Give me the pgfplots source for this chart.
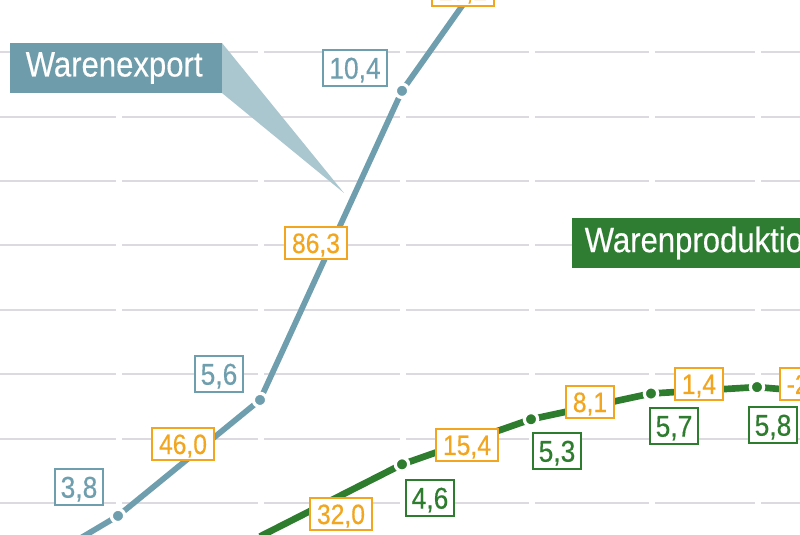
\documentclass[border=0pt]{standalone}
\usepackage{fontspec}
\setmainfont{Liberation Sans}[FakeStretch=0.88,FakeBold=0.4]
\usepackage{pgfplots}
\usepackage{pgfplotstable}
\pgfplotsset{compat=1.18}
\definecolor{expblue}{HTML}{6F9FAE}
\definecolor{expbox}{HTML}{6E9CAA}
\definecolor{exptri}{HTML}{AAC6CF}
\definecolor{prodgreen}{HTML}{2E7D2E}
\definecolor{prodbox}{HTML}{2E7D32}
\definecolor{growth}{HTML}{F2A51E}
\definecolor{gridc}{HTML}{DCDAE0}

\tikzset{
  lab/.style={draw,line width=1.5pt,fill=white,inner xsep=4.6pt,inner ysep=5.6pt,
     text height=16pt,text depth=0pt,font=\fontsize{22.5pt}{23pt}\selectfont},
  glab/.style={draw=growth,text=growth,line width=1.5pt,fill=white,inner xsep=5pt,inner ysep=4.2pt,
     text height=15pt,text depth=0pt,font=\fontsize{21pt}{22pt}\selectfont},
}

% Warenexport (x = horizontal position, y = value)
\pgfplotstableread{
x y
-24 2.49
118 3.8
260 5.6
402 10.4
531 13.23
}\exportdata
% Warenproduktion
\pgfplotstableread{
x y
260 3.48
402 4.6
531 5.3
651 5.7
757 5.8
850 5.68
}\proddata

\begin{document}
\begin{tikzpicture}
\begin{axis}[width=600pt,height=400.5pt,scale only axis,
  xmin=0,xmax=800,ymin=3.5186,ymax=11.8106,hide axis,clip=true]
% grid
\foreach \k in {4,...,11}{
  \edef\tmp{\noexpand\draw[gridc,line width=1.6pt] (0,\k) -- (800,\k);}\tmp
}
\foreach \g in {119,260.5,403,532,651.5,757.5}{
  \edef\tmp{\noexpand\draw[white,line width=4.5pt] (\g,3.4) -- (\g,12);}\tmp
}
% Warenexport label with pointer
\fill[exptri] (222,11.143) -- (344,8.814) -- (222,10.366) -- cycle;
\fill[expbox] (10,11.143) rectangle (222,10.366);
\node[text=white,font=\fontsize{26.5pt}{27pt}\selectfont,anchor=west] at (21,10.755) {Warenexport};
% Warenproduktion label
\fill[prodbox] (572,8.425) rectangle (850,7.649);
\node[text=white,font=\fontsize{26.5pt}{27pt}\selectfont,anchor=west] at (580,8.037) {Warenproduktion};

\addplot[expblue,line width=4.3pt,mark=*,mark size=5pt,
  mark options={fill=expblue,draw=white,line width=2.4pt}] table[x=x,y=y] {\exportdata};
\addplot[prodgreen,line width=5pt,mark=*,mark size=5pt,
  mark options={fill=prodgreen,draw=white,line width=2.4pt}] table[x=x,y=y] {\proddata};

% value labels
\node[lab,draw=expblue,text=expblue] at (79,4.248) {3,8};
\node[lab,draw=expblue,text=expblue] at (219,6.003) {5,6};
\node[lab,draw=expblue,text=expblue] at (355,10.755) {10,4};
\node[lab,draw=prodgreen,text=prodgreen] at (430,4.078) {4,6};
\node[lab,draw=prodgreen,text=prodgreen] at (557,4.807) {5,3};
\node[lab,draw=prodgreen,text=prodgreen] at (674,5.196) {5,7};
\node[lab,draw=prodgreen,text=prodgreen] at (773,5.211) {5,8};
% growth labels
\node[glab] at (183,4.916) {46,0};
\node[glab] at (316,8.037) {86,3};
\node[glab] at (463,11.966) {27,2};
\node[glab] at (341,3.829) {32,0};
\node[glab] at (467,4.901) {15,4};
\node[glab] at (590,5.568) {8,1};
\node[glab] at (699,5.848) {1,4};
\node[glab,anchor=west] at (779,5.848) {-2,1};
\end{axis}
\pgfresetboundingbox
\path[use as bounding box] (current axis.south west) rectangle (current axis.north east);
\end{tikzpicture}
\end{document}
